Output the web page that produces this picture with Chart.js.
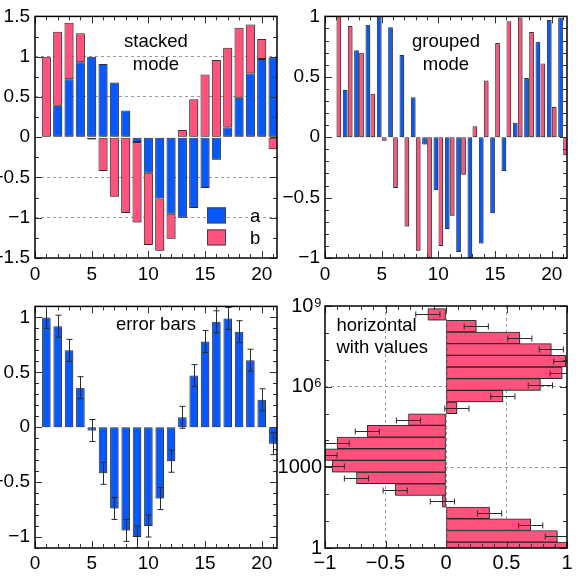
<!DOCTYPE html>
<html>
<head>
<meta charset="utf-8">
<script src="https://cdn.jsdelivr.net/npm/chart.js@4.4.1/dist/chart.umd.min.js"></script>
<style>
    html, body { margin: 0; padding: 0; background: #fff; }
    #page { position: relative; width: 583px; height: 582px; overflow: hidden; }
    canvas { position: absolute; }
</style>
</head>
<body>
<div id="page">
    <canvas id="stacked-chart" width="290" height="290" style="left:0;top:0"></canvas>
    <canvas id="grouped-chart" width="333" height="290" style="left:250px;top:0"></canvas>
    <canvas id="error-chart" width="290" height="292" style="left:0;top:290px"></canvas>
    <canvas id="horizontal-chart" width="333" height="292" style="left:250px;top:290px"></canvas>
</div>
<script>
// values
const categories = [1, 2, 3, 4, 5, 6, 7, 8, 9, 10, 11, 12, 13, 14, 15, 16, 17, 18, 19, 20, 21];
const series_a = [0, 0.39, 0.72, 0.93, 1.0, 0.91, 0.68, 0.33, -0.06, -0.44, -0.76,
                  -0.95, -1.0, -0.88, -0.63, -0.28, 0.12, 0.49, 0.79, 0.97, 0.99];
const series_b = [1.0, 0.92, 0.70, 0.36, -0.03, -0.42, -0.74, -0.94, -1.0, -0.90, -0.65,
                  -0.31, 0.09, 0.47, 0.78, 0.96, 0.99, 0.87, 0.61, 0.25, -0.15];
const errors_b = [0.1, 0.1, 0.1, 0.1, 0.1, 0.1, 0.1, 0.1, 0.1, 0.1, 0.1,
                  0.1, 0.1, 0.1, 0.1, 0.1, 0.1, 0.1, 0.1, 0.1, 0.1];
// bar positions on the log axis of the last panel (bottom to top)
const log_positions = [1, 2.72, 7.39, 20.1, 54.6, 148, 403, 1097, 2981, 8103, 22026,
                       59874, 162755, 442413, 1202604, 3269017, 8886111, 24154953,
                       65659969, 178482301, 485165195];

const x_ticks = [0, 5, 10, 15, 20];
const y_ticks_stacked = [-1.5, -1, -0.5, 0, 0.5, 1, 1.5];
const y_ticks_unit = [-1, -0.5, 0, 0.5, 1];
const log_ticks = [1, 1000, 1e6, 1e9];
const log_tick_labels = ["1", "1000", "10\u2076", "10\u2079"];

const BLUE = "rgb(5, 88, 252)";
const PINK = "rgb(255, 82, 124)";
const FONT = "'Liberation Sans', Arial, sans-serif";

function fmt(v) {
    return v < 0 ? "\u2212" + Math.abs(v) : String(v);
}

function points(values) {
    return values.map((v, i) => ({ x: categories[i], y: v }));
}

function axis(o) {
    return {
        type: o.type || "linear",
        min: o.min,
        max: o.max,
        offset: false,
        stacked: !!o.stacked,
        afterBuildTicks: (scale) => { scale.ticks = o.ticks.map(v => ({ value: v })); },
        afterFit: (scale) => {
            if (o.width) scale.width = o.width;
            if (o.height) scale.height = o.height;
        },
        ticks: {
            autoSkip: false,
            maxRotation: 0,
            padding: o.padding,
            color: "#000",
            font: { family: FONT, size: o.size || 19 },
            callback: o.label || fmt
        },
        grid: {
            display: !!o.grid,
            offset: false,
            drawTicks: false,
            lineWidth: 1,
            color: (c) => (o.grid && c.tick && o.grid.includes(c.tick.value)) ? "#9a9a9a" : "rgba(0,0,0,0)"
        },
        border: { display: false, dash: [3, 3] }
    };
}

function minor_values(scale, step) {
    const out = [];
    if (step === "log") {
        for (let v = scale.min; v <= scale.max * 1.001; v *= 10) out.push(v);
    } else {
        const first = Math.ceil(scale.min / step - 1e-9);
        for (let k = first; k * step <= scale.max + 1e-9; k++) out.push(k * step);
    }
    return out;
}

function draw_marks(ctx, area, scale, values, len) {
    ctx.beginPath();
    for (const v of values) {
        const p = Math.round(scale.getPixelForValue(v)) + 0.5;
        if (scale.isHorizontal()) {
            ctx.moveTo(p, area.bottom); ctx.lineTo(p, area.bottom - len);
            ctx.moveTo(p, area.top); ctx.lineTo(p, area.top + len);
        } else {
            ctx.moveTo(area.left, p); ctx.lineTo(area.left + len, p);
            ctx.moveTo(area.right, p); ctx.lineTo(area.right - len, p);
        }
    }
    ctx.stroke();
}

// soft grey halo round the bars
const shadow_plugin = {
    id: "halo",
    beforeDatasetsDraw(chart) {
        const ctx = chart.ctx;
        ctx.save();
        ctx.shadowColor = "rgba(0,0,0,0.35)";
        ctx.shadowBlur = 2;
        ctx.shadowOffsetX = 1;
        ctx.shadowOffsetY = 1;
    },
    afterDatasetsDraw(chart) {
        chart.ctx.restore();
    }
};

const error_plugin = {
    id: "errors",
    afterDatasetsDraw(chart, args, opts) {
        if (!opts.values) return;
        const ctx = chart.ctx;
        const area = chart.chartArea;
        const horiz = chart.options.indexAxis === "y";
        const vscale = horiz ? chart.scales.x : chart.scales.y;
        const meta = chart.getDatasetMeta(0);
        const data = chart.data.datasets[0].data;
        ctx.save();
        ctx.beginPath();
        ctx.rect(area.left, area.top, area.width, area.height);
        ctx.clip();
        ctx.strokeStyle = "#2a2a2a";
        ctx.lineWidth = 1;
        ctx.beginPath();
        meta.data.forEach((bar, i) => {
            const v = horiz ? data[i].x : data[i].y;
            const e = opts.values[i];
            const p1 = vscale.getPixelForValue(v - e);
            const p2 = vscale.getPixelForValue(v + e);
            if (horiz) {
                const y = Math.round(bar.y) + 0.5;
                ctx.moveTo(p1, y); ctx.lineTo(p2, y);
                ctx.moveTo(p1, y - 3); ctx.lineTo(p1, y + 3);
                ctx.moveTo(p2, y - 3); ctx.lineTo(p2, y + 3);
            } else {
                const x = Math.round(bar.x) + 0.5;
                ctx.moveTo(x, p1); ctx.lineTo(x, p2);
                ctx.moveTo(x - 3, p1); ctx.lineTo(x + 3, p1);
                ctx.moveTo(x - 3, p2); ctx.lineTo(x + 3, p2);
            }
        });
        ctx.stroke();
        ctx.restore();
    }
};

// inward ticks on all four sides, frame, notes and the inner legend
const frame_plugin = {
    id: "frame",
    afterDatasetsDraw(chart, args, opts) {
        const ctx = chart.ctx;
        const area = chart.chartArea;
        ctx.save();
        ctx.strokeStyle = "#333";
        ctx.lineWidth = 1;
        for (const id of ["x", "y"]) {
            const scale = chart.scales[id];
            draw_marks(ctx, area, scale, minor_values(scale, opts.minor[id]), 4);
            draw_marks(ctx, area, scale, scale.ticks.map(t => t.value), 7);
        }
        ctx.strokeStyle = "#000";
        ctx.lineWidth = 1.5;
        ctx.strokeRect(area.left, area.top, area.width, area.height);

        ctx.fillStyle = "#000";
        ctx.font = "18.5px " + FONT;
        ctx.textBaseline = "alphabetic";
        for (const n of opts.notes || []) {
            ctx.textAlign = n.align;
            const x = n.align === "center" ? (area.left + area.right) / 2 : area.left + n.dx;
            ctx.fillText(n.text, x, area.top + n.dy);
        }

        if (opts.legend) {
            chart.data.datasets.forEach((ds, i) => {
                const bx = area.left + 172;
                const by = area.top + 191 + i * 22;
                ctx.fillStyle = ds.backgroundColor;
                ctx.fillRect(bx, by, 19, 16);
                ctx.strokeStyle = "#444";
                ctx.lineWidth = 1;
                ctx.strokeRect(bx + 0.5, by + 0.5, 18, 15);
                ctx.fillStyle = "#000";
                ctx.textAlign = "left";
                ctx.fillText(ds.label, bx + 43, by + 15);
            });
        }
        ctx.restore();
    }
};

const bar_style = {
    borderColor: "#333",
    borderWidth: 1,
    borderSkipped: false,
    clip: 0
};

function base_options(extra) {
    return Object.assign({
        responsive: false,
        animation: false,
        events: [],
        plugins: { legend: { display: false }, tooltip: { enabled: false } }
    }, extra);
}

new Chart(document.getElementById("stacked-chart"), {
    type: "bar",
    data: {
        datasets: [
            Object.assign({ label: "a", data: points(series_a), backgroundColor: BLUE }, bar_style),
            Object.assign({ label: "b", data: points(series_b), backgroundColor: PINK }, bar_style)
        ]
    },
    options: base_options({
        layout: { padding: { top: 16, right: 13, left: 0, bottom: 0 } },
        barPercentage: 0.8,
        categoryPercentage: 1,
        scales: {
            x: axis({ min: 0, max: 21.35, ticks: x_ticks, height: 32, padding: 5, stacked: true }),
            y: axis({ min: -1.5, max: 1.5, ticks: y_ticks_stacked, width: 35, padding: 5, stacked: true,
                      grid: [-1, -0.5, 0.5, 1] })
        },
        plugins: {
            legend: { display: false }, tooltip: { enabled: false },
            frame: {
                minor: { x: 1, y: 0.25 },
                legend: true,
                notes: [{ text: "stacked", align: "center", dy: 30.5 },
                        { text: "mode", align: "center", dy: 54 }]
            }
        }
    }),
    plugins: [shadow_plugin, error_plugin, frame_plugin]
});

new Chart(document.getElementById("grouped-chart"), {
    type: "bar",
    data: {
        datasets: [
            Object.assign({ label: "a", data: points(series_a), backgroundColor: BLUE }, bar_style),
            Object.assign({ label: "b", data: points(series_b), backgroundColor: PINK }, bar_style)
        ]
    },
    options: base_options({
        layout: { padding: { top: 16, right: 16, left: 0, bottom: 0 } },
        barPercentage: 0.94,
        categoryPercentage: 0.88,
        scales: {
            x: axis({ min: 0, max: 21.35, ticks: x_ticks, height: 32, padding: 5 }),
            y: axis({ min: -1, max: 1, ticks: y_ticks_unit, width: 75, padding: 5 })
        },
        plugins: {
            legend: { display: false }, tooltip: { enabled: false },
            frame: {
                minor: { x: 1, y: 0.1 },
                notes: [{ text: "grouped", align: "center", dy: 30.5 },
                        { text: "mode", align: "center", dy: 54 }]
            }
        }
    }),
    plugins: [shadow_plugin, error_plugin, frame_plugin]
});

new Chart(document.getElementById("error-chart"), {
    type: "bar",
    data: {
        datasets: [
            Object.assign({ label: "b", data: points(series_b), backgroundColor: BLUE }, bar_style)
        ]
    },
    options: base_options({
        layout: { padding: { top: 16, right: 13, left: 0, bottom: 0 } },
        barPercentage: 0.75,
        categoryPercentage: 1,
        scales: {
            x: axis({ min: 0, max: 21.35, ticks: x_ticks, height: 34, padding: 4 }),
            y: axis({ min: -1.1, max: 1.1, ticks: y_ticks_unit, width: 35, padding: 5 })
        },
        plugins: {
            legend: { display: false }, tooltip: { enabled: false },
            errors: { values: errors_b },
            frame: {
                minor: { x: 1, y: 0.1 },
                notes: [{ text: "error bars", align: "center", dy: 24 }]
            }
        }
    }),
    plugins: [shadow_plugin, error_plugin, frame_plugin]
});

new Chart(document.getElementById("horizontal-chart"), {
    type: "bar",
    data: {
        datasets: [
            Object.assign({
                label: "b",
                data: log_positions.map((y, i) => ({ x: series_b[i], y: y })),
                backgroundColor: PINK
            }, bar_style)
        ]
    },
    options: base_options({
        indexAxis: "y",
        layout: { padding: { top: 16, right: 16, left: 0, bottom: 0 } },
        barPercentage: 1,
        categoryPercentage: 1,
        scales: {
            x: axis({ min: -1, max: 1, ticks: y_ticks_unit, height: 34, padding: 3, size: 20,
                      grid: [-0.5, 0, 0.5] }),
            y: axis({ type: "logarithmic", min: 1, max: 1e9, ticks: log_ticks, width: 75, padding: 3,
                      size: 20, grid: [1000, 1e6],
                      label: (v) => log_tick_labels[log_ticks.indexOf(v)] })
        },
        plugins: {
            legend: { display: false }, tooltip: { enabled: false },
            errors: { values: errors_b },
            frame: {
                minor: { x: 0.1, y: "log" },
                notes: [{ text: "horizontal", align: "left", dx: 11.5, dy: 24.7 },
                        { text: "with values", align: "left", dx: 11.5, dy: 46.7 }]
            }
        }
    }),
    plugins: [shadow_plugin, error_plugin, frame_plugin]
});
</script>
</body>
</html>
